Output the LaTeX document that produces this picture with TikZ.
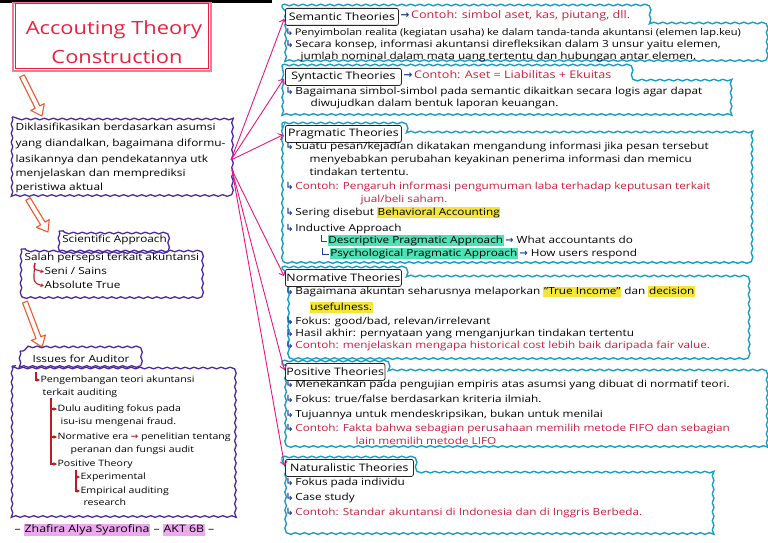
\documentclass[tikz,border=0pt]{standalone}
\usepackage{fontspec}
\setmainfont[FakeStretch=1.2]{Open Sans}
\newfontfamily\symf{DejaVu Sans}
\usetikzlibrary{decorations.pathmorphing,arrows.meta,calc}
\definecolor{navy}{HTML}{1C3F94}
\definecolor{tred}{HTML}{C8203C}
\definecolor{titred}{HTML}{E8223E}
\definecolor{titpink}{HTML}{F47A98}
\definecolor{purp}{HTML}{4B2AA0}
\definecolor{oran}{HTML}{F2592A}
\definecolor{pnk}{HTML}{E8187C}
\definecolor{tealc}{HTML}{1E9DC4}
\definecolor{hly}{HTML}{F4E53C}
\definecolor{hlg}{HTML}{4FE0B5}
\definecolor{hlp}{HTML}{EDA9EE}
\definecolor{brred}{HTML}{B81E28}
\newcommand{\nv}{{\symf\bfseries\textcolor{navy}{↳}}\,}
\newcommand{\ra}{{\symf\bfseries\textcolor{navy}{→}}}
\newcommand{\rra}{{\symf\bfseries\textcolor{brred}{→}}}
\newcommand{\hl}[2]{{\setlength{\fboxsep}{0.7pt}\colorbox{#1}{\vphantom{Ag}#2}}}
\newcommand{\hollow}[2]{%
  \path ($(#2)!10pt!(#1)$) coordinate (hh);
  \draw[harr] ($(#1)!2.6pt!90:(#2)$) -- ($(hh)!2.6pt!90:(#2)$) -- ($(hh)!7.5pt!90:(#2)$) -- (#2)
    -- ($(hh)!7.5pt!-90:(#2)$) -- ($(hh)!2.6pt!-90:(#2)$) -- ($(#1)!2.6pt!-90:(#2)$) -- cycle;}
\begin{document}
\begin{tikzpicture}[x=1pt,y=-1pt,
  wavy/.style={decorate,decoration={snake,amplitude=0.8pt,segment length=9pt}},
  pbox/.style={draw=purp,line width=1.3pt,wavy},
  tbox/.style={draw=tealc,line width=1.4pt,wavy},
  lbl/.style={draw=black!85,line width=0.8pt,rounded corners=2pt,fill=white,anchor=north west,
    minimum height=17pt,inner sep=1pt,font=\fontsize{10.3}{12}\selectfont},
  it/.style={anchor=west,inner sep=0.4pt,text height=6.8pt,text depth=2pt,font=\fontsize{9.8}{11}\selectfont},
  itl/.style={it,font=\fontsize{9.9}{12}\selectfont},
  its/.style={it,font=\fontsize{8.8}{10}\selectfont},
  ctc/.style={it,font=\fontsize{10.5}{12}\selectfont},
  harr/.style={draw=oran,line width=1.1pt,fill=white,line join=round},
  parr/.style={draw=pnk,line width=0.9pt,-{Straight Barb[length=4pt,width=7pt]},shorten >=2pt},
  brk/.style={draw=brred,line width=1.1pt,-{Stealth[length=3.5pt,width=3.5pt]}},
  nbrk/.style={draw=navy,line width=1pt}]
\useasboundingbox (0,0) rectangle (768,543);
\fill[white] (0,0) rectangle (768,543);
\fill[black] (0,0) rectangle (272,3.5);

% ---------- title ----------
\draw[titpink,line width=2.6pt] (13,3) rectangle (211,71);
\draw[titred,line width=0.8pt] (15.5,3) rectangle (208.5,68.5);
\node[text=titred,font=\fontsize{18.2}{22}\selectfont] (t1) at (114,30) {Accouting Theory};
\node[text=titred,font=\fontsize{18.2}{22}\selectfont] (t2) at (117,57) {Construction};

% ---------- box 1 ----------
\draw[pbox] (12,117) rectangle (231,194);
\node[itl] (b1) at (15,128) {Diklasifikasikan berdasarkan asumsi};
\node[itl] (b2) at (15,144) {yang diandalkan, bagaimana diformu-};
\node[itl] (b3) at (15,160) {lasikannya dan pendekatannya utk};
\node[itl] (b4) at (15,174) {menjelaskan dan memprediksi};
\node[itl] (b5) at (15,188) {peristiwa aktual};
\coordinate (ha1) at (22,76); \coordinate (hb1) at (42,116);
\hollow{ha1}{hb1}

% ---------- scientific ----------
\coordinate (ha2) at (28,199); \coordinate (hb2) at (48,232);
\hollow{ha2}{hb2}
\draw[pbox] (59,231) rectangle (170,248);
\node[font=\fontsize{9.8}{11}\selectfont] (sciL) at (114.5,239.5) {Scientific Approach};
\draw[pbox] (21,249) rectangle (204,293);
\node[it,font=\fontsize{9.8}{11}\selectfont] (s1) at (24,258) {Salah persepsi terkait akuntansi};
\node[it] (s2) at (44,272) {Seni / Sains};
\node[it] (s3) at (44,286) {Absolute True};
\draw[brk] (35,263) .. controls (33,269) .. (s2.west);
\draw[brk] (35,263) .. controls (33,283) .. (s3.west);

% ---------- issues ----------
\coordinate (ha3) at (25,302); \coordinate (hb3) at (42,347);
\hollow{ha3}{hb3}
\draw[pbox] (12,366) rectangle (238,515);
\draw[pbox,fill=white] (20,351) rectangle (142,366);
\node[font=\fontsize{9.8}{11}\selectfont] (issL) at (81,359) {Issues for Auditor};
\node[its] (i1) at (40,380) {Pengembangan teori akuntansi};
\node[its] (i2) at (42,393) {terkait auditing};
\node[its] (i3) at (57,409) {Dulu auditing fokus pada};
\node[its] (i4) at (60,422) {isu-isu mengenai fraud.};
\node[its] (i5) at (57,437) {Normative era \rra\ penelitian tentang};
\node[its] (i6) at (70,450) {peranan dan fungsi audit};
\node[its] (i7) at (57,464) {Positive Theory};
\node[its] (i8) at (80,477) {Experimental};
\node[its] (i9) at (80,491) {Empirical auditing};
\node[its] (i10) at (83,503) {research};
\draw[brk] (36,372) |- (i1.west);
\draw[brk] (51,398) |- (i3.west);
\draw[brk] (51,398) |- (i5.west);
\draw[brk] (51,398) |- (i7.west);
\draw[brk] (76,470) |- (i8.west);
\draw[brk] (76,470) |- (i9.west);
\node[its,font=\fontsize{10.3}{11}\selectfont] (foot) at (14,530) {-- \hl{hlp}{Zhafira Alya Syarofina} -- \hl{hlp}{AKT 6B} --};

% ---------- semantic ----------
\draw[tbox] (282,5) -- (648,5) -- (648,23) -- (762,23) -- (762,62) -- (282,62) -- cycle;
\node[lbl,minimum width=113pt] (semL) at (285,8) {Semantic Theories};
\node[ctc] (semC) at (400,16.5) {\ra\,\textcolor{tred}{Contoh: simbol aset, kas, piutang, dll.}};
\node[it,font=\fontsize{9.2}{11}\selectfont] (sem1) at (285,33) {\nv Penyimbolan realita (kegiatan usaha) ke dalam tanda-tanda akuntansi (elemen lap.keu)};
\node[it] (sem2) at (285,45) {\nv Secara konsep, informasi akuntansi direfleksikan dalam 3 unsur yaitu elemen,};
\node[it] (sem3) at (300,57) {jumlah nominal dalam mata uang tertentu dan hubungan antar elemen.};

% ---------- syntactic ----------
\draw[tbox] (282,65) -- (630,65) -- (630,77) -- (730,77) -- (730,113) -- (282,113) -- cycle;
\node[lbl,minimum width=116pt] (synL) at (285,68) {Syntactic Theories};
\node[ctc] (synC) at (403,76.5) {\ra\,\textcolor{tred}{Contoh: Aset = Liabilitas + Ekuitas}};
\node[it] (syn1) at (285,92) {\nv Bagaimana simbol-simbol pada semantic dikaitkan secara logis agar dapat};
\node[it] (syn2) at (310,104) {diwujudkan dalam bentuk laporan keuangan.};

% ---------- pragmatic ----------
\draw[tbox] (282,123) -- (403,123) -- (403,133) -- (750,133) -- (750,265) -- (282,265) -- cycle;
\node[lbl,minimum width=116pt] (praL) at (285,125) {Pragmatic Theories};
\node[it] (pra1) at (285,147) {\nv Suatu pesan/kejadian dikatakan mengandung informasi jika pesan tersebut};
\node[it] (pra2) at (309,160) {menyebabkan perubahan keyakinan penerima informasi dan memicu};
\node[it] (pra3) at (309,173) {tindakan tertentu.};
\node[it] (pra4) at (285,187) {\nv\textcolor{tred}{Contoh: Pengaruh informasi pengumuman laba terhadap keputusan terkait}};
\node[it] (pra5) at (360,200) {\textcolor{tred}{jual/beli saham.}};
\node[it] (pra6) at (285,213) {\nv Sering disebut \hl{hly}{Behavioral Accounting}};
\node[it] (pra7) at (285,229) {\nv Inductive Approach};
\node[it] (pra8) at (327,241) {\hl{hlg}{Descriptive Pragmatic Approach}\,\ra\ What accountants do};
\node[it] (pra9) at (329,254) {\hl{hlg}{Psychological Pragmatic Approach}\,\ra\ How users respond};
\draw[nbrk] (321,235) |- (pra8.west);
\draw[nbrk] (322,248) |- (pra9.west);

% ---------- normative ----------
\draw[tbox] (282,267) -- (403,267) -- (403,279) -- (745,279) -- (745,356) -- (282,356) -- cycle;
\node[lbl,minimum width=116pt] (norL) at (285,269) {Normative Theories};
\node[it] (nor1) at (285,292) {\nv Bagaimana akuntan seharusnya melaporkan \hl{hly}{"True Income"} dan \hl{hly}{decision}};
\node[it] (nor2) at (309,308) {\hl{hly}{usefulness.}};
\node[it] (nor3) at (285,322) {\nv Fokus: good/bad, relevan/irrelevant};
\node[it] (nor4) at (285,334) {\nv Hasil akhir: pernyataan yang menganjurkan tindakan tertentu};
\node[it] (nor5) at (285,346) {\nv\textcolor{tred}{Contoh: menjelaskan mengapa historical cost lebih baik daripada fair value.}};

% ---------- positive ----------
\draw[tbox] (282,361) -- (384,361) -- (384,374) -- (762,374) -- (762,450) -- (282,450) -- cycle;
\node[lbl,minimum width=97pt] (posL) at (285,363) {Positive Theories};
\node[it] (pos1) at (285,385) {\nv Menekankan pada pengujian empiris atas asumsi yang dibuat di normatif teori.};
\node[it] (pos2) at (285,400) {\nv Fokus: true/false berdasarkan kriteria ilmiah.};
\node[it] (pos3) at (285,415) {\nv Tujuannya untuk mendeskripsikan, bukan untuk menilai};
\node[it] (pos4) at (285,429) {\nv\textcolor{tred}{Contoh: Fakta bahwa sebagian perusahaan memilih metode FIFO dan sebagian}};
\node[it] (pos5) at (355,442) {\textcolor{tred}{lain memilih metode LIFO}};

% ---------- naturalistic ----------
\draw[tbox] (282,457) -- (415,457) -- (415,469) -- (712,469) -- (712,530) -- (282,530) -- cycle;
\node[lbl,minimum width=128pt] (natL) at (285,459) {Naturalistic Theories};
\node[it] (nat1) at (285,483) {\nv Fokus pada individu};
\node[it] (nat2) at (285,498) {\nv Case study};
\node[it] (nat3) at (285,513) {\nv\textcolor{tred}{Contoh: Standar akuntansi di Indonesia dan di Inggris Berbeda.}};

% ---------- pink connectors ----------
\coordinate (hubA) at (231,160);
\coordinate (hubB) at (232,170);
\draw[parr] (hubA) -- (semL.west);
\draw[parr] (hubA) -- (synL.west);
\draw[parr] (hubA) -- (praL.west);
\draw[parr] (hubB) -- (norL.west);
\draw[parr] (hubB) -- (posL.west);
\draw[parr] (hubB) -- (natL.west);
\end{tikzpicture}
\end{document}
